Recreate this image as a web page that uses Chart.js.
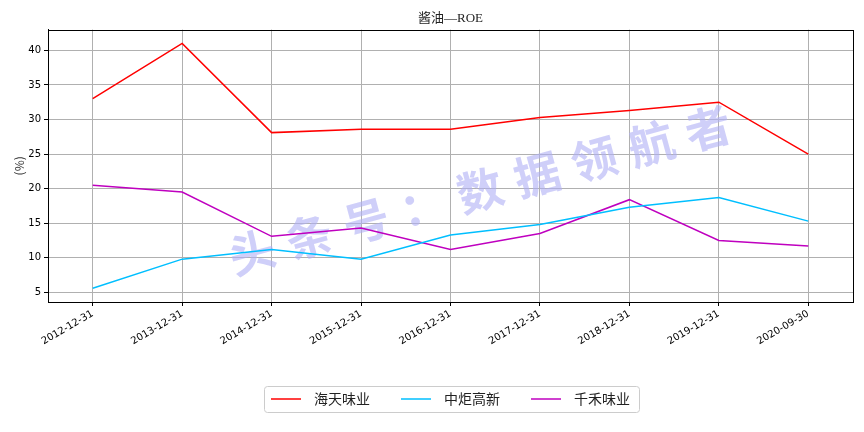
<!DOCTYPE html>
<html>
<head>
<meta charset="utf-8">
<script src="https://cdn.jsdelivr.net/npm/chart.js@4"></script>
<style>
  html, body { margin: 0; padding: 0; background: #fff; }
  #wrap { width: 864px; height: 432px; }
</style>
</head>
<body>
<div id="wrap"><canvas id="roeChart" width="864" height="432"></canvas></div>
<script>
// --- DATA ---
const periods = ['2012-12-31', '2013-12-31', '2014-12-31', '2015-12-31', '2016-12-31',
                 '2017-12-31', '2018-12-31', '2019-12-31', '2020-09-30'];
const haitian  = [33.0, 41.0, 28.1, 28.6, 28.6, 30.3, 31.3, 32.5, 25.0];
const zhongju  = [5.6, 9.8, 11.2, 9.8, 13.3, 14.8, 17.3, 18.7, 15.3];
const qianhe   = [20.5, 19.5, 13.1, 14.3, 11.2, 13.5, 18.4, 12.5, 11.7];
const yTicks   = [5, 10, 15, 20, 25, 30, 35, 40];
const watermark = '头条号：数据领航者';

const CJK = '"Noto Sans CJK SC", "DejaVu Sans", sans-serif';

// --- Plugins ---
// full frame around plot area
const frame = {
  id: 'frame',
  afterDraw(chart) {
    const { ctx, chartArea: a } = chart;
    ctx.save();
    ctx.strokeStyle = '#000';
    ctx.lineWidth = 1;
    ctx.strokeRect(Math.round(a.left) + 0.5, Math.round(a.top) + 0.5,
                   Math.round(a.right - a.left), Math.round(a.bottom - a.top));
    ctx.restore();
  }
};

// center title + legend on the plot area, not the whole canvas
const centerOnAxes = {
  id: 'centerOnAxes',
  afterLayout(chart) {
    const a = chart.chartArea;
    [chart.titleBlock, chart.legend].forEach(b => {
      if (!b) return;
      b.left = a.left;
      b.right = a.right;
      b.width = a.right - a.left;
    });
  }
};

// rotated watermark text
const stamp = {
  id: 'stamp',
  beforeDatasetsDraw(chart) {
    const ctx = chart.ctx;
    const chars = [...watermark];
    const x0 = 252, y0 = 252, x1 = 708, y1 = 128;
    const ang = Math.atan2(y1 - y0, x1 - x0);
    ctx.save();
    ctx.fillStyle = 'rgba(175, 175, 245, 0.6)';
    ctx.font = 'bold 46px ' + CJK;
    ctx.textAlign = 'center';
    ctx.textBaseline = 'middle';
    chars.forEach((c, i) => {
      const t = i / (chars.length - 1);
      ctx.save();
      ctx.translate(x0 + (x1 - x0) * t, y0 + (y1 - y0) * t);
      ctx.rotate(ang);
      ctx.fillText(c, 0, 0);
      ctx.restore();
    });
    ctx.restore();
  }
};

// border box around legend items
const legendBox = {
  id: 'legendBox',
  afterDraw(chart) {
    const boxes = chart.legend && chart.legend.legendHitBoxes;
    if (!boxes || !boxes.length) return;
    const l = Math.min(...boxes.map(b => b.left)) - 7;
    const r = Math.max(...boxes.map(b => b.left + b.width)) + 9;
    const t = Math.min(...boxes.map(b => b.top)) - 6;
    const bt = Math.max(...boxes.map(b => b.top + b.height)) + 6;
    const ctx = chart.ctx;
    ctx.save();
    ctx.strokeStyle = '#cccccc';
    ctx.lineWidth = 1;
    ctx.beginPath();
    ctx.roundRect(Math.round(l) + 0.5, Math.round(t) + 0.5, Math.round(r - l), Math.round(bt - t), 3);
    ctx.stroke();
    ctx.restore();
  }
};

// legend line sample: 30px line with a little space after it
function lineSample(color) {
  const c = document.createElement('canvas');
  c.width = 36;
  c.height = 4;
  const g = c.getContext('2d');
  g.strokeStyle = color;
  g.lineWidth = 1.5;
  g.beginPath();
  g.moveTo(0, 2);
  g.lineTo(30, 2);
  g.stroke();
  return c;
}

// --- Chart ---
function makeSet(label, data, color) {
  return {
    label, data,
    borderColor: color,
    backgroundColor: color,
    borderWidth: 1.5,
    pointRadius: 0,
    pointStyle: lineSample(color),
    tension: 0,
    fill: false
  };
}

window.addEventListener('DOMContentLoaded', () => {
  Chart.defaults.color = '#000';
  Chart.defaults.font.family = '"DejaVu Sans", sans-serif';
  Chart.defaults.font.size = 10;

  const ctx = document.getElementById('roeChart').getContext('2d');
  new Chart(ctx, {
    type: 'line',
    data: {
      labels: periods,
      datasets: [
        makeSet('海天味业', haitian, '#ff0000'),
        makeSet('中炬高新', zhongju, '#00bfff'),
        makeSet('千禾味业', qianhe, '#bf00bf')
      ]
    },
    options: {
      responsive: false,
      animation: false,
      layout: { padding: { left: 0, right: 11, top: 0, bottom: 16 } },
      scales: {
        x: {
          offset: true,
          grid: { color: '#b0b0b0', tickColor: '#000', tickLength: 4, offset: false },
          border: { color: '#000' },
          ticks: { minRotation: 30, maxRotation: 30, autoSkip: false, padding: 2 },
          afterFit(scale) { scale.height = 59; }
        },
        y: {
          min: 3.6,
          max: 43.0,
          grid: { color: '#b0b0b0', tickColor: '#000', tickLength: 4 },
          border: { color: '#000' },
          ticks: { padding: 3 },
          title: { display: true, text: '(%)', color: '#333', font: { size: 12, family: CJK }, padding: { top: 12, bottom: 0 } },
          afterBuildTicks(scale) { scale.ticks = yTicks.map(v => ({ value: v })); },
          afterFit(scale) { scale.width = 48; }
        }
      },
      plugins: {
        title: {
          display: true,
          text: '酱油—ROE',
          color: '#222',
          font: { size: 13, family: '"Liberation Serif", "Noto Sans CJK SC", serif', weight: 'normal' },
          padding: { top: 11, bottom: 3 }
        },
        legend: {
          position: 'bottom',
          labels: {
            usePointStyle: true,
            pointStyleWidth: 36,
            boxHeight: 14,
            padding: 31,
            color: '#222',
            font: { size: 14, family: CJK }
          }
        },
        tooltip: { enabled: false }
      }
    },
    plugins: [centerOnAxes, stamp, frame, legendBox]
  });
});
</script>
</body>
</html>
